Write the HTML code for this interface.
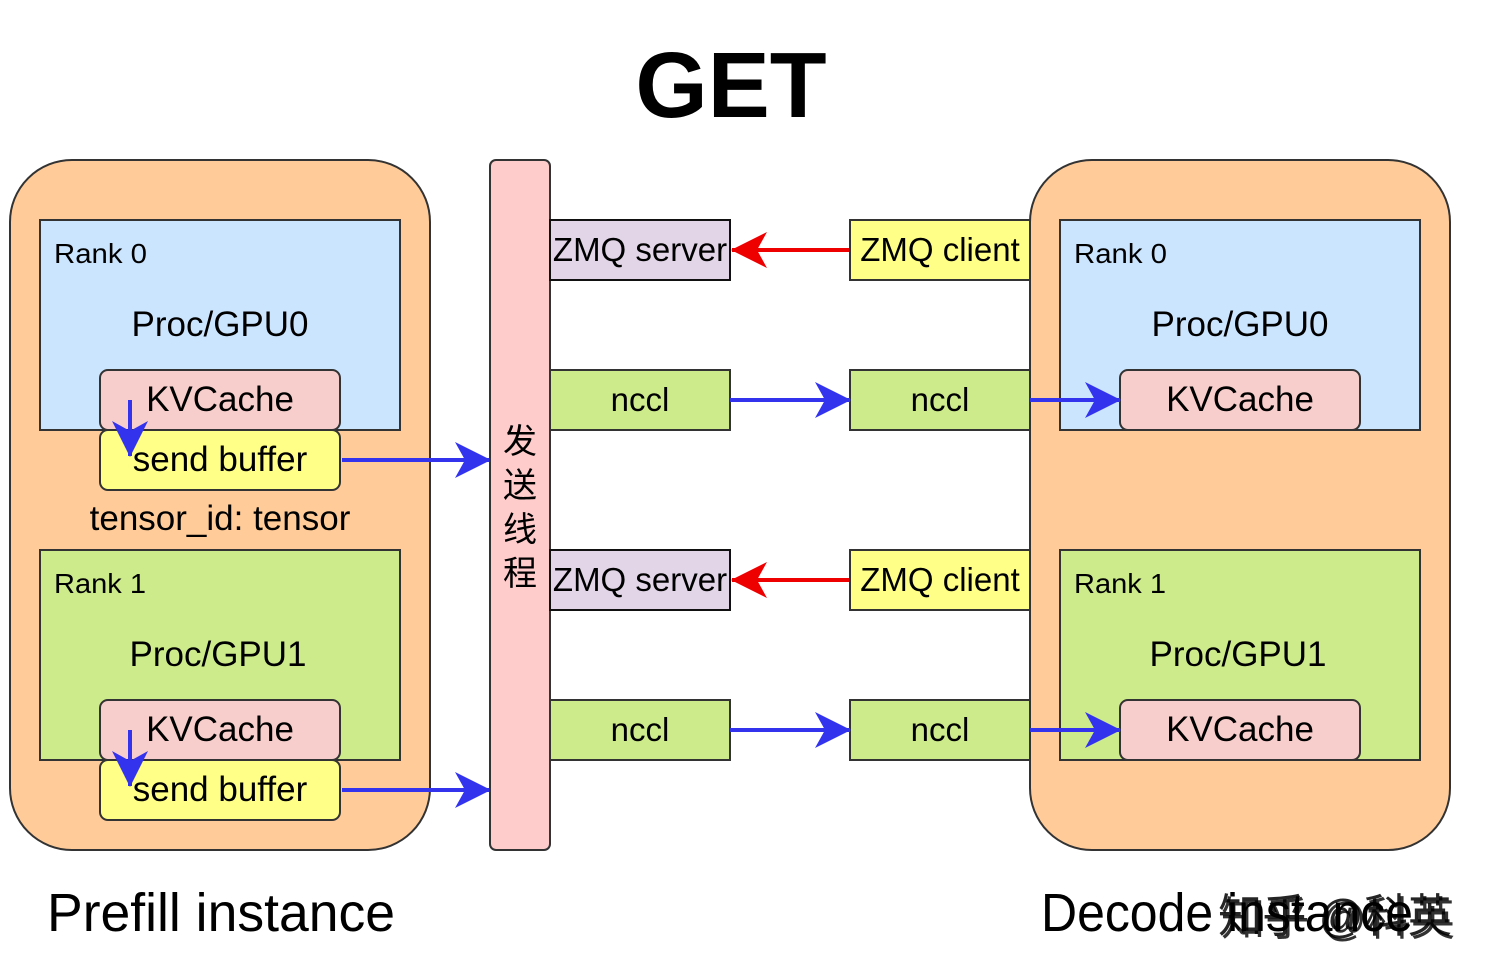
<!DOCTYPE html>
<html><head><meta charset="utf-8"><style>
html,body{margin:0;padding:0;background:#fff;}
svg{display:block;}
text{font-family:"Liberation Sans","Noto Sans CJK SC",sans-serif;fill:#000;}
</style></head><body>
<svg width="1491" height="978" viewBox="0 0 1491 978" xmlns="http://www.w3.org/2000/svg">
<defs>
<marker id="abL" viewBox="0 0 36 36" refX="35" refY="18" markerWidth="36" markerHeight="36" markerUnits="userSpaceOnUse" orient="auto"><path d="M0,0 L36,18 L0,36 L10,18 Z" fill="#3333ee"/></marker>
<marker id="ar" viewBox="0 0 36 36" refX="35" refY="18" markerWidth="36" markerHeight="36" markerUnits="userSpaceOnUse" orient="auto"><path d="M0,0 L36,18 L0,36 L10,18 Z" fill="#ee0000"/></marker>
</defs>

<text x="731" y="117" font-size="93" font-weight="bold" text-anchor="middle">GET</text>

<!-- Prefill -->
<rect x="10" y="160" width="420" height="690" rx="62" fill="#FFCC99" stroke="#333" stroke-width="2"/>
<rect x="40" y="220" width="360" height="210" fill="#CCE5FF" stroke="#333" stroke-width="2"/>
<text x="54" y="263" font-size="28" textLength="93" lengthAdjust="spacingAndGlyphs">Rank 0</text>
<text x="220" y="336" font-size="35" text-anchor="middle">Proc/GPU0</text>
<rect x="100" y="370" width="240" height="60" rx="8" fill="#F8CECC" stroke="#333" stroke-width="2"/>
<text x="220" y="411" font-size="35" text-anchor="middle">KVCache</text>
<rect x="100" y="430" width="240" height="60" rx="8" fill="#FFFF88" stroke="#333" stroke-width="2"/>
<text x="220" y="471" font-size="35" text-anchor="middle">send buffer</text>
<line x1="130" y1="400" x2="130" y2="456" stroke="#3333ee" stroke-width="4" marker-end="url(#abL)"/>
<text x="220" y="530" font-size="35" text-anchor="middle">tensor_id: tensor</text>

<rect x="40" y="550" width="360" height="210" fill="#CDEB8B" stroke="#333" stroke-width="2"/>
<text x="54" y="593" font-size="28" textLength="92" lengthAdjust="spacingAndGlyphs">Rank 1</text>
<text x="218" y="666" font-size="35" text-anchor="middle">Proc/GPU1</text>
<rect x="100" y="700" width="240" height="60" rx="8" fill="#F8CECC" stroke="#333" stroke-width="2"/>
<text x="220" y="741" font-size="35" text-anchor="middle">KVCache</text>
<rect x="100" y="760" width="240" height="60" rx="8" fill="#FFFF88" stroke="#333" stroke-width="2"/>
<text x="220" y="801" font-size="35" text-anchor="middle">send buffer</text>
<line x1="130" y1="730" x2="130" y2="786" stroke="#3333ee" stroke-width="4" marker-end="url(#abL)"/>

<line x1="342" y1="460" x2="490" y2="460" stroke="#3333ee" stroke-width="4" marker-end="url(#abL)"/>
<line x1="342" y1="790" x2="490" y2="790" stroke="#3333ee" stroke-width="4" marker-end="url(#abL)"/>

<!-- thread bar -->
<rect x="490" y="160" width="60" height="690" rx="6" fill="#FFCCCC" stroke="#333" stroke-width="2"/>
<text x="520" y="453" font-size="34" text-anchor="middle">发</text>
<text x="520" y="497" font-size="34" text-anchor="middle">送</text>
<text x="520" y="541" font-size="34" text-anchor="middle">线</text>
<text x="520" y="585" font-size="34" text-anchor="middle">程</text>

<!-- middle -->
<rect x="550" y="220" width="180" height="60" fill="#E1D5E7" stroke="#111" stroke-width="2"/>
<text x="640" y="261" font-size="33" text-anchor="middle">ZMQ server</text>
<line x1="850" y1="250" x2="732" y2="250" stroke="#ee0000" stroke-width="4" marker-end="url(#ar)"/>

<rect x="550" y="370" width="180" height="60" fill="#CDEB8B" stroke="#333" stroke-width="2"/>
<text x="640" y="411" font-size="33" text-anchor="middle">nccl</text>
<rect x="850" y="370" width="180" height="60" fill="#CDEB8B" stroke="#333" stroke-width="2"/>
<text x="940" y="411" font-size="33" text-anchor="middle">nccl</text>
<line x1="730" y1="400" x2="850" y2="400" stroke="#3333ee" stroke-width="4" marker-end="url(#abL)"/>

<rect x="550" y="550" width="180" height="60" fill="#E1D5E7" stroke="#111" stroke-width="2"/>
<text x="640" y="591" font-size="33" text-anchor="middle">ZMQ server</text>
<line x1="850" y1="580" x2="732" y2="580" stroke="#ee0000" stroke-width="4" marker-end="url(#ar)"/>

<rect x="550" y="700" width="180" height="60" fill="#CDEB8B" stroke="#333" stroke-width="2"/>
<text x="640" y="741" font-size="33" text-anchor="middle">nccl</text>
<rect x="850" y="700" width="180" height="60" fill="#CDEB8B" stroke="#333" stroke-width="2"/>
<text x="940" y="741" font-size="33" text-anchor="middle">nccl</text>
<line x1="730" y1="730" x2="850" y2="730" stroke="#3333ee" stroke-width="4" marker-end="url(#abL)"/>

<!-- Decode -->
<rect x="1030" y="160" width="420" height="690" rx="62" fill="#FFCC99" stroke="#333" stroke-width="2"/>
<rect x="850" y="220" width="180" height="60" fill="#FFFF88" stroke="#333" stroke-width="2"/>
<text x="940" y="261" font-size="33" text-anchor="middle">ZMQ client</text>
<rect x="850" y="550" width="180" height="60" fill="#FFFF88" stroke="#333" stroke-width="2"/>
<text x="940" y="591" font-size="33" text-anchor="middle">ZMQ client</text>

<rect x="1060" y="220" width="360" height="210" fill="#CCE5FF" stroke="#333" stroke-width="2"/>
<text x="1074" y="263" font-size="28" textLength="93" lengthAdjust="spacingAndGlyphs">Rank 0</text>
<text x="1240" y="336" font-size="35" text-anchor="middle">Proc/GPU0</text>
<rect x="1120" y="370" width="240" height="60" rx="8" fill="#F8CECC" stroke="#333" stroke-width="2"/>
<text x="1240" y="411" font-size="35" text-anchor="middle">KVCache</text>

<rect x="1060" y="550" width="360" height="210" fill="#CDEB8B" stroke="#333" stroke-width="2"/>
<text x="1074" y="593" font-size="28" textLength="92" lengthAdjust="spacingAndGlyphs">Rank 1</text>
<text x="1238" y="666" font-size="35" text-anchor="middle">Proc/GPU1</text>
<rect x="1120" y="700" width="240" height="60" rx="8" fill="#F8CECC" stroke="#333" stroke-width="2"/>
<text x="1240" y="741" font-size="35" text-anchor="middle">KVCache</text>

<line x1="1030" y1="400" x2="1120" y2="400" stroke="#3333ee" stroke-width="4" marker-end="url(#abL)"/>
<line x1="1030" y1="730" x2="1120" y2="730" stroke="#3333ee" stroke-width="4" marker-end="url(#abL)"/>

<text x="47" y="931" font-size="54" textLength="348" lengthAdjust="spacingAndGlyphs">Prefill instance</text>
<text x="1041" y="931" font-size="54" textLength="372" lengthAdjust="spacingAndGlyphs">Decode instance</text>
<text x="1221" y="935" font-size="46" fill="#bbb" opacity="0.8" textLength="234" lengthAdjust="spacingAndGlyphs">知乎 @科英</text>
<text x="1218" y="932" font-size="46" fill="#fff" opacity="0.85" textLength="234" lengthAdjust="spacingAndGlyphs">知乎 @科英</text>
</svg>
</body></html>
